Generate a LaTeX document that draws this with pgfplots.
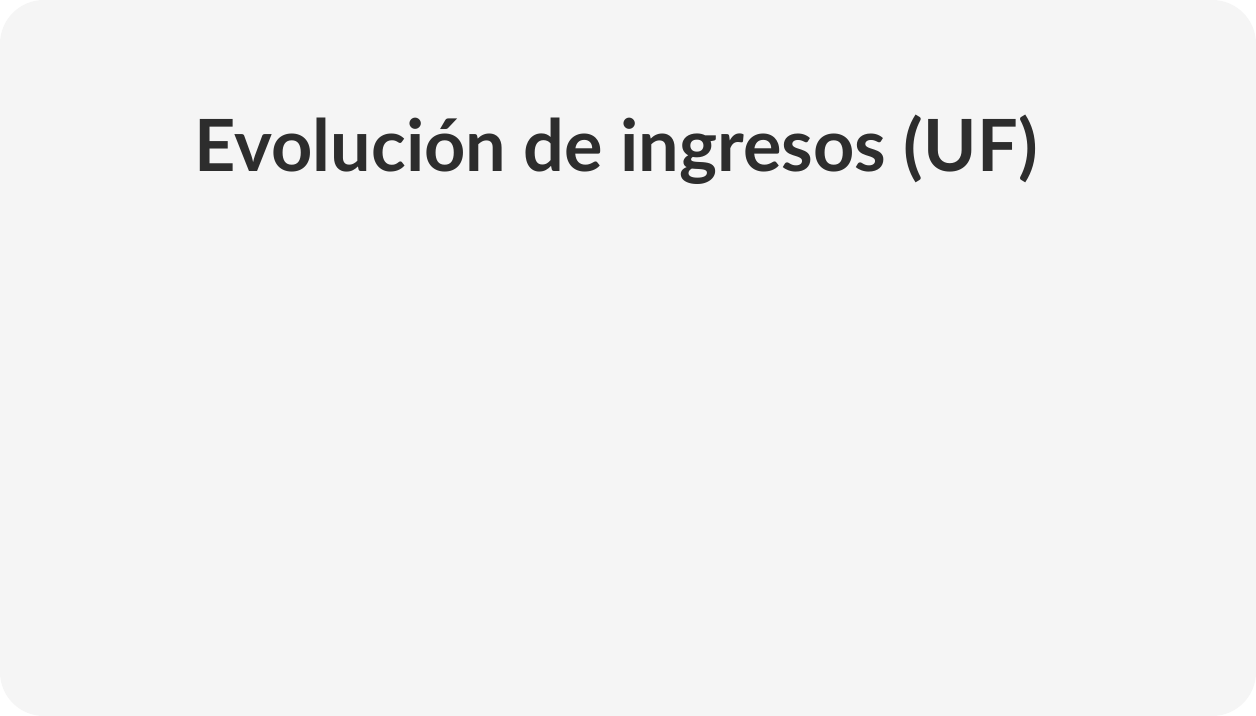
\documentclass[border=0pt]{standalone}
\usepackage{pgfplots}
\pgfplotsset{compat=1.18}
\usepackage{fontspec}
\setmainfont{Lato}
\definecolor{cardbg}{HTML}{F5F5F5}
\definecolor{titlecol}{HTML}{2D2D2D}
\begin{document}
\begin{tikzpicture}
  \fill[white] (0,0) rectangle (628pt,358pt);
  \fill[cardbg, rounded corners=22pt] (0,0) rectangle (628pt,358pt);
  \begin{axis}[
    at={(0,0)}, anchor=south west,
    width=628pt, height=358pt, scale only axis,
    xmin=0, xmax=1, ymin=0, ymax=1,
    hide axis,
  ]
    % no data shown in the chart
    \node[anchor=base, text=titlecol, font=\fontsize{36}{40}\selectfont\bfseries, inner sep=0pt]
      at (rel axis cs:0.4904,0.7598) {Evolución de ingresos (UF)};
  \end{axis}
\end{tikzpicture}
\end{document}
